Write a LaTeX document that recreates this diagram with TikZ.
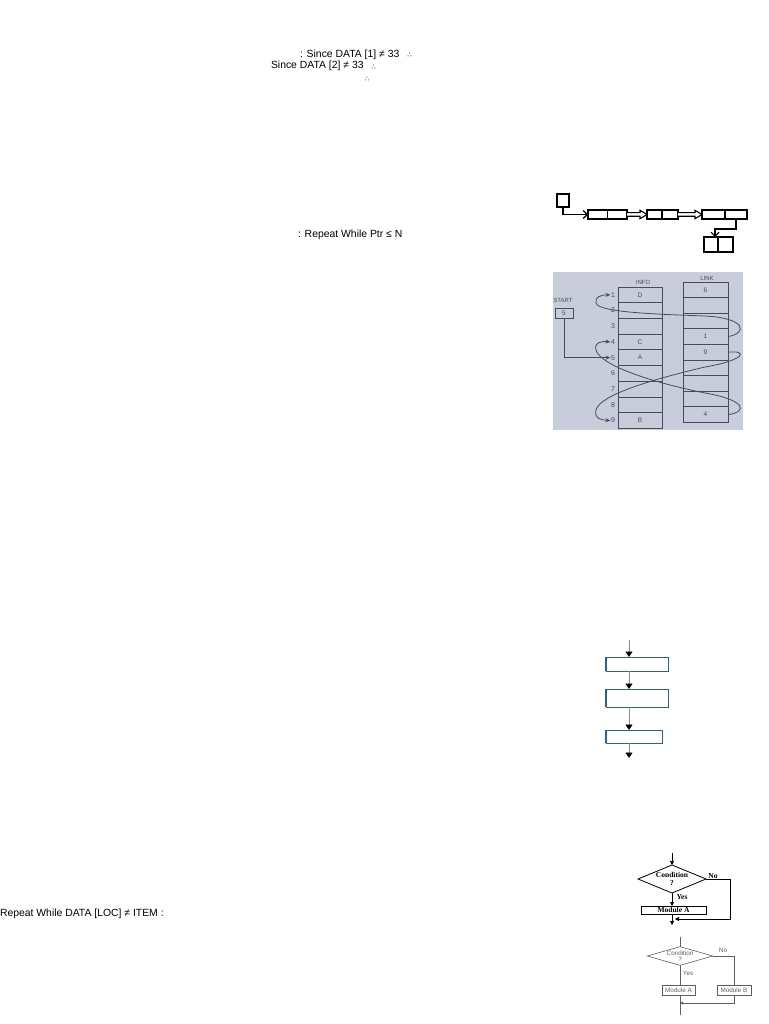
\documentclass[tikz,border=0pt]{standalone}
\usepackage{fontspec}
\setmainfont{Liberation Sans}
\newfontfamily\serfont{Liberation Serif}
\newfontfamily\symfont{DejaVu Sans}
\usetikzlibrary{arrows.meta, shapes.geometric}
\definecolor{tabbg}{RGB}{201,205,219}
\definecolor{tabline}{RGB}{72,76,88}
\definecolor{fcblue}{RGB}{46,94,150}
\definecolor{shaft}{RGB}{140,140,140}
\definecolor{softgrey}{RGB}{95,95,95}

\begin{document}
\begin{tikzpicture}[x=1pt, y=-1pt, font=\fontsize{10.4}{12}\selectfont, every node/.style={inner sep=0pt, outer sep=0pt}, line join=miter,
    txt/.style={anchor=west},
    dots/.style={font=\symfont\fontsize{7}{7}\selectfont},
    llcell/.style={draw, line width=1.1pt, minimum width=#1, minimum height=9pt},
    llarr/.style={line width=1.1pt, -{Straight Barb[length=4pt, width=8pt]}},
    hollow/.style={line width=1.1pt, fill=white},
    cell/.style={draw=tabline, line width=0.8pt, minimum width=44pt, minimum height=15.7pt, text=tabline, font=\fontsize{6.5}{7}\selectfont},
    rowlab/.style={text=tabline, font=\fontsize{7}{7}\selectfont, inner sep=0.6pt},
    tabarr/.style={draw=tabline, line width=0.8pt, -{Stealth[length=5pt, width=4pt]}},
    fcbox/.style={draw=fcblue, line width=0.7pt, minimum width=#1},
    fcarr/.style={draw=shaft, line width=0.7pt, -{Triangle[black, length=5.5pt, width=7pt]}},
    arr2/.style={line width=0.7pt, -{Triangle[length=4pt, width=4pt]}},
    bold2/.style={font=\serfont\bfseries\fontsize{7.5}{8}\selectfont},
    line3/.style={draw=softgrey, line width=0.6pt},
    small3/.style={text=softgrey, font=\fontsize{6.3}{6.5}\selectfont}]

    \useasboundingbox (0,0) rectangle (768,1024);

    \node[txt] (since1) at (300,54.5) {: Since DATA [1] ≠ 33};
    \node[dots] (ergo1) at (409.5,55.5) {∴};
    \node[txt] (since2) at (271,66) {Since DATA [2] ≠ 33};
    \node[dots] (ergo2) at (373.5,67) {∴};
    \node[dots] (ergo3) at (367,79) {∴};
    \node[txt] (repeat1) at (298,235) {: Repeat While Ptr ≤ N};
    \node[txt] (repeat2) at (0,913.5) {Repeat While DATA [LOC] ≠ ITEM :};

    \node[draw, line width=1.1pt, minimum width=12pt, minimum height=13pt] (head) at (563,200.5) {};
    \node[llcell=19.5pt] (l1a) at (597.75,214.5) {};
    \node[llcell=19.5pt] (l1b) at (617.25,214.5) {};
    \node[llcell=15pt] (l2a) at (654.5,214.5) {};
    \node[llcell=16pt] (l2b) at (670,214.5) {};
    \node[llcell=23pt] (l3a) at (713.5,214.5) {};
    \node[llcell=22pt] (l3b) at (736,214.5) {};
    \node[llcell=14pt, minimum height=15pt] (l4a) at (711,244.5) {};
    \node[llcell=15pt, minimum height=15pt] (l4b) at (725.5,244.5) {};
    \draw[llarr] (head.south) |- (l1a.west);
    \draw[hollow] ([yshift=1.8pt]l1b.east) -- ([xshift=-7pt, yshift=1.8pt]l2a.west) -- ([xshift=-7pt, yshift=4.2pt]l2a.west) -- (l2a.west)
        -- ([xshift=-7pt, yshift=-4.2pt]l2a.west) -- ([xshift=-7pt, yshift=-1.8pt]l2a.west) -- ([yshift=-1.8pt]l1b.east);
    \draw[hollow] ([yshift=1.8pt]l2b.east) -- ([xshift=-7pt, yshift=1.8pt]l3a.west) -- ([xshift=-7pt, yshift=4.2pt]l3a.west) -- (l3a.west)
        -- ([xshift=-7pt, yshift=-4.2pt]l3a.west) -- ([xshift=-7pt, yshift=-1.8pt]l3a.west) -- ([yshift=-1.8pt]l2b.east);
    \draw[llarr] (l3b.south) -- ++(0,10) -| ([xshift=-3pt]l4b.north west);

    \fill[tabbg] (553,272) rectangle (743,430);
    \node[text=tabline, font=\fontsize{6}{6}\selectfont] (infolab) at (643,282) {INFO};
    \node[text=tabline, font=\fontsize{6}{6}\selectfont] (linklab) at (707,278) {LINK};
    \foreach \i/\t in {1/D,2/{},3/{},4/C,5/A,6/{},7/{},8/{},9/B}
        \node[cell] (info\i) at (640,279.15+15.7*\i) {\t};
    \foreach \i/\t in {1/6,2/{},3/{},4/1,5/9,6/{},7/{},8/{},9/4}
        \node[cell, minimum width=45pt, minimum height=15.6pt] (link\i) at (705.5,274.2+15.6*\i) {\t};
    \foreach \i in {1,...,9}
        \node[rowlab] (r\i) at (613,279.15+15.7*\i) {\i};
    \node[text=tabline, font=\fontsize{6}{6}\selectfont] (startlab) at (563,300) {START};
    \node[draw=tabline, line width=0.8pt, minimum width=18pt, minimum height=10pt, text=tabline, font=\fontsize{6.5}{7}\selectfont] (start) at (564,313) {5};
    \draw[tabarr] (start.south) |- (r5.west);
    \draw[tabarr] (link4.east) .. controls (748,333) and (746,318) .. (705,316) .. controls (650,314) and (598,312) .. (596,303) .. controls (595,297) and (600,295) .. (r1.west);
    \draw[tabarr] (link5.east) .. controls (748,350) and (746,360) .. (705,367) .. controls (650,380) and (600,395) .. (596,410) .. controls (594,418) and (600,420) .. (r9.west);
    \draw[tabarr] (link9.east) .. controls (748,412) and (746,400) .. (705,393) .. controls (650,382) and (600,365) .. (596,350) .. controls (594,343) and (600,341) .. (r4.west);

    \node[fcbox=62pt, minimum height=14pt] (fc1) at (637,664) {};
    \node[fcbox=62pt, minimum height=18pt] (fc2) at (637,698) {};
    \node[fcbox=56pt, minimum height=13pt] (fc3) at (634,736.5) {};
    \foreach \b in {fc1,fc2,fc3}
        \draw[fcblue, line width=1.4pt] (\b.north west) -- (\b.south west);
    \coordinate (fcin) at (629,640);
    \coordinate (fcout) at (629,758);
    \draw[fcarr] (fcin) -- (fcin |- fc1.north);
    \draw[fcarr] (fcin |- fc1.south) -- (fcin |- fc2.north);
    \draw[fcarr] (fcin |- fc2.south) -- (fcin |- fc3.north);
    \draw[fcarr] (fcin |- fc3.south) -- (fcout);

    \node[diamond, draw, line width=0.8pt, aspect=2.4, minimum width=68pt, minimum height=28pt, align=center, bold2] (cond1) at (672,879) {Condition\\?};
    \node[draw, line width=0.8pt, minimum width=65pt, minimum height=8pt, bold2] (moda1) at (673.5,910) {Module A};
    \node[bold2] (no1) at (713,876) {No};
    \node[bold2] (yes1) at (682,897) {Yes};
    \coordinate (in1) at (672,853);
    \coordinate (out1) at (672,925);
    \coordinate (turn1) at (730,919);
    \coordinate (join1) at (675,919);
    \draw[arr2] (in1) -- (cond1.north);
    \draw[arr2] (cond1.south) -- (cond1.south |- moda1.north);
    \draw[arr2] (cond1.east) -| (turn1) -- (join1);
    \draw[arr2] (cond1.south |- moda1.south) -- (out1);

    \node[diamond, line3, aspect=3.5, minimum width=62pt, minimum height=18pt, align=center, small3] (cond2) at (680,956) {Condition\\?};
    \node[line3, minimum width=33pt, minimum height=10pt, small3] (moda2) at (678.5,990) {Module A};
    \node[line3, minimum width=34pt, minimum height=10pt, small3] (modb2) at (734,990) {Module B};
    \node[small3] (no2) at (723,950) {No};
    \node[small3] (yes2) at (688,973) {Yes};
    \coordinate (in2) at (680,937);
    \coordinate (join2) at (680,1003);
    \coordinate (out2) at (680,1015);
    \draw[line3] (in2) -- (cond2.north);
    \draw[line3] (cond2.south) -- (cond2.south |- moda2.north);
    \draw[line3] (cond2.east) -| (modb2.north);
    \draw[line3] (cond2.south |- moda2.south) -- (join2) -- (out2);
    \draw[line3, -{Triangle[length=3pt, width=3pt]}] (modb2.south) |- (join2);
\end{tikzpicture}
\end{document}
